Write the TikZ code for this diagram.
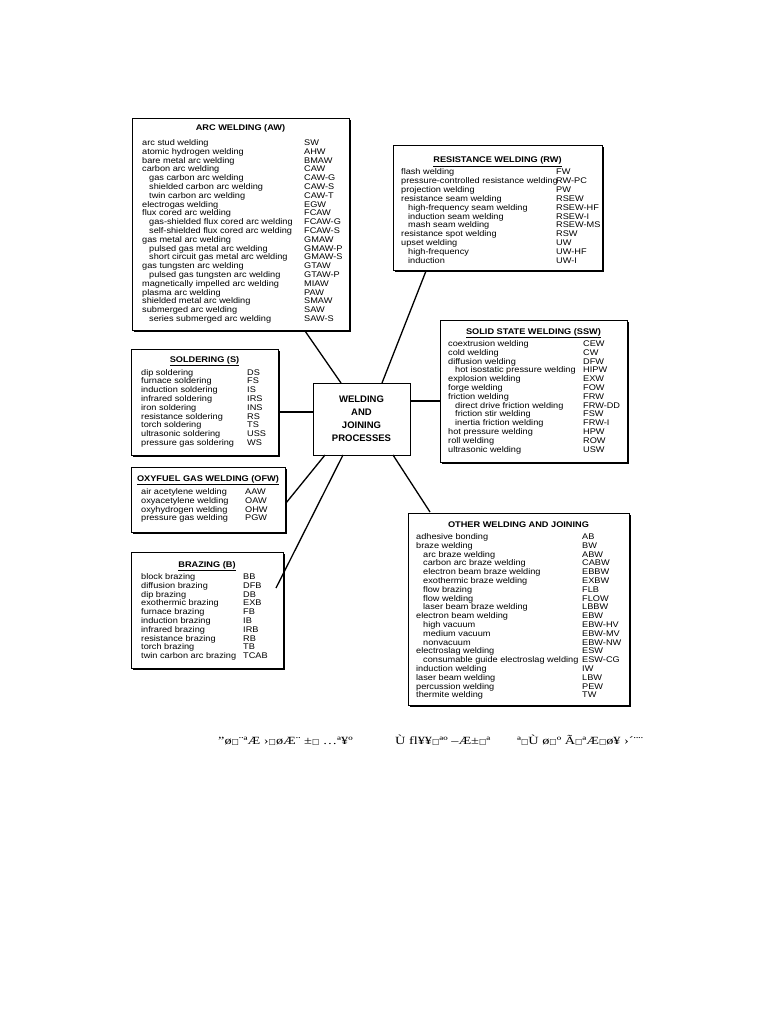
\documentclass[tikz,border=0pt]{standalone}
\usepackage{fontspec}
\setmainfont{Liberation Sans}
\newfontfamily\rowfont[FakeStretch=1.12]{Liberation Sans}
\newfontfamily\garbfont[FakeStretch=1.3]{Liberation Serif}
\newfontfamily\boxfont{DejaVu Sans}
\usetikzlibrary{positioning}
\newcommand{\bx}{{\boxfont\scalebox{0.7}{□}}}
% one process list: x of names, x of abbreviations, y of first row, list
\newcommand{\plist}[4]{%
  \foreach \nm/\ab/\ind [count=\i] in {#4} {
    \node[row] at ({#1+\ind},{#3+(\i-1)*8.8}) {\nm};
    \node[row] at ({#2},{#3+(\i-1)*8.8}) {\ab};
  }}
\begin{document}
\begin{tikzpicture}[x=1pt,y=-1pt]
\tikzset{
  group/.style={draw, line width=0.9pt, fill=white, anchor=north west, inner sep=0pt},
  shadow/.style={fill=black, anchor=north west, inner sep=0pt},
  title/.style={font=\rowfont\bfseries\fontsize{8.2}{9}\selectfont, anchor=base},
  row/.style={font=\rowfont\fontsize{8.2}{9}\selectfont, anchor=base west, inner sep=0pt},
  caption/.style={font=\garbfont\fontsize{11}{13}\selectfont, anchor=base west, inner sep=0pt},
  link/.style={line width=1.3pt}
}
\useasboundingbox (0,0) rectangle (768,1024);
% centre
\node[draw, line width=0.9pt, minimum width=97pt, minimum height=72pt, align=center,
  font=\bfseries\fontsize{9.5}{13}\selectfont] (centre) at (361.5,419) {WELDING\\AND\\JOINING\\PROCESSES};
% groups: shadow then box
\foreach \nm/\x/\y/\w/\h in {arc/132/118/217/212, res/393/145/209/125, ssw/440/320/187/142,
    sold/131/349/147/106, ofw/131/467/154/65, braz/131/552/152/116, other/408/513/221/192} {
  \node[shadow, minimum width=\w pt, minimum height=\h pt] at (\x+1.6,\y+1.6) {};
  \node[group, minimum width=\w pt, minimum height=\h pt] (\nm) at (\x,\y) {};
}
% titles
\node[title] at (240.5,131) {ARC WELDING (AW)};
\node[title] at (497.5,163) {\underline{RESISTANCE WELDING (RW)}};
\node[title] at (533.5,334) {\underline{SOLID STATE WELDING (SSW)}};
\node[title] at (204.5,362) {\underline{SOLDERING (S)}};
\node[title] at (208,481) {\underline{OXYFUEL GAS WELDING (OFW)}};
\node[title] at (207,567) {\underline{BRAZING (B)}};
\node[title] at (518.5,527) {OTHER WELDING AND JOINING};
% lists
\plist{142}{304}{145.5}{arc stud welding/SW/0, atomic hydrogen welding/AHW/0, bare metal arc welding/BMAW/0,
  carbon arc welding/CAW/0, gas carbon arc welding/CAW-G/7, shielded carbon arc welding/CAW-S/7,
  twin carbon arc welding/CAW-T/7, electrogas welding/EGW/0, flux cored arc welding/FCAW/0,
  gas-shielded flux cored arc welding/FCAW-G/7, self-shielded flux cored arc welding/FCAW-S/7,
  gas metal arc welding/GMAW/0, pulsed gas metal arc welding/GMAW-P/7, short circuit gas metal arc welding/GMAW-S/7,
  gas tungsten arc welding/GTAW/0, pulsed gas tungsten arc welding/GTAW-P/7, magnetically impelled arc welding/MIAW/0,
  plasma arc welding/PAW/0, shielded metal arc welding/SMAW/0, submerged arc welding/SAW/0,
  series submerged arc welding/SAW-S/7}
\plist{401}{556}{175}{flash welding/FW/0, pressure-controlled resistance welding/RW-PC/0, projection welding/PW/0,
  resistance seam welding/RSEW/0, high-frequency seam welding/RSEW-HF/7, induction seam welding/RSEW-I/7,
  mash seam welding/RSEW-MS/7, resistance spot welding/RSW/0, upset welding/UW/0,
  high-frequency/UW-HF/7, induction/UW-I/7}
\plist{448}{583}{346.5}{coextrusion welding/CEW/0, cold welding/CW/0, diffusion welding/DFW/0,
  hot isostatic pressure welding/HIPW/7, explosion welding/EXW/0, forge welding/FOW/0, friction welding/FRW/0,
  direct drive friction welding/FRW-DD/7, friction stir welding/FSW/7, inertia friction welding/FRW-I/7,
  hot pressure welding/HPW/0, roll welding/ROW/0, ultrasonic welding/USW/0}
\plist{141}{247}{375}{dip soldering/DS/0, furnace soldering/FS/0, induction soldering/IS/0, infrared soldering/IRS/0,
  iron soldering/INS/0, resistance soldering/RS/0, torch soldering/TS/0, ultrasonic soldering/USS/0,
  pressure gas soldering/WS/0}
\plist{141}{245}{494.5}{air acetylene welding/AAW/0, oxyacetylene welding/OAW/0, oxyhydrogen welding/OHW/0,
  pressure gas welding/PGW/0}
\plist{141}{243}{579.5}{block brazing/BB/0, diffusion brazing/DFB/0, dip brazing/DB/0, exothermic brazing/EXB/0,
  furnace brazing/FB/0, induction brazing/IB/0, infrared brazing/IRB/0, resistance brazing/RB/0,
  torch brazing/TB/0, twin carbon arc brazing/TCAB/0}
\plist{416}{582}{539.5}{adhesive bonding/AB/0, braze welding/BW/0, arc braze welding/ABW/7,
  carbon arc braze welding/CABW/7, electron beam braze welding/EBBW/7, exothermic braze welding/EXBW/7,
  flow brazing/FLB/7, flow welding/FLOW/7, laser beam braze welding/LBBW/7, electron beam welding/EBW/0,
  high vacuum/EBW-HV/7, medium vacuum/EBW-MV/7, nonvacuum/EBW-NW/7, electroslag welding/ESW/0,
  consumable guide electroslag welding/ESW-CG/7, induction welding/IW/0, laser beam welding/LBW/0,
  percussion welding/PEW/0, thermite welding/TW/0}
% connectors
\coordinate (arcend) at (305,331);
\coordinate (resend) at (426,271);
\coordinate (bracend) at (276,588);
\coordinate (ofwend) at (286,503);
\coordinate (othend) at (430,512);
\draw[link] (arcend) -- (341,383);
\draw[link] (resend) -- (382,383);
\draw[link] (centre.east |- 0,401) -- (ssw.west |- 0,401);
\draw[link] (sold.east |- 0,412) -- (centre.west |- 0,412);
\draw[link] (ofwend) -- (325,455);
\draw[link] (bracend) -- (343,455);
\draw[link] (othend) -- (393,455);
% caption line
\node[caption] (capa) at (218,744) {”ø\bx¨ªÆ ›\bx øÆ¨ ±\bx\ …ª¥º};
\node[caption] (capb) at (395,744) {Ù fl¥¥\bx ªº –Æ±\bx ª};
\node[caption] (capc) at (517,744) {ª\bx Ù ø\bx º Ã\bx ªÆ\bx ø¥ ›´¨¨};
\end{tikzpicture}
\end{document}
